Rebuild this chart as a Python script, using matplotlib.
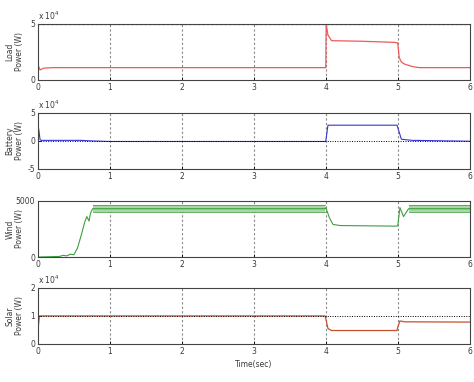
import numpy as np
import matplotlib
matplotlib.use("Agg")
import matplotlib.pyplot as plt

# ---- data (time in s, power in W) ----
load_t = [0, 0.01, 0.03, 0.08, 0.2, 4.0, 4.005, 4.03, 4.08, 4.5, 4.95, 5.0, 5.02, 5.05, 5.1, 5.2, 5.3, 6.0]
load_p = [2000, 12000, 9000, 10500, 11000, 11000, 50000, 40000, 35000, 34500, 33500, 33000, 20000, 16000, 14000, 12000, 11000, 11000]
load_ref = 50000

batt_t = [0, 0.01, 0.03, 0.05, 0.6, 0.75, 1.0, 3.99, 4.0, 4.03, 4.99, 5.05, 5.2, 6.0]
batt_p = [0, 22000, 2000, 1000, 1000, 0, -1000, -1000, 0, 28000, 28000, 3000, 1000, -500]
batt_ref = 0

wind_t = [0, 0.3, 0.35, 0.4, 0.45, 0.5, 0.55, 0.6, 0.65, 0.68, 0.71, 0.73, 0.76,
          3.99, 4.0, 4.05, 4.1, 4.2, 4.99, 5.0, 5.03, 5.08, 5.15, 6.0]
wind_p = [0, 50, 150, 100, 250, 200, 800, 1900, 3100, 3600, 3200, 3900, 4300,
          4300, 4400, 3500, 2900, 2800, 2750, 2800, 4400, 3600, 4300, 4300]
# ripple band of the wind power (low / high envelope)
ripple_t = [0.76, 3.99, 5.15, 6.0]
ripple_lo = [4000, 4000, 4000, 4000]
ripple_hi = [4600, 4600, 4600, 4600]

solar_t = [0, 0.005, 0.02, 3.99, 4.0, 4.03, 4.08, 4.99, 5.0, 5.03, 5.1, 6.0]
solar_p = [0, 6000, 10000, 10000, 9000, 5500, 4800, 4800, 6000, 8200, 7900, 7800]
solar_ref = 10000

fig = plt.figure(figsize=(4.74, 3.82), dpi=100)
fig.patch.set_facecolor("white")

left, width, h = 0.080, 0.911, 0.147
bottoms = [0.7906, 0.5576, 0.3272, 0.0995]
axes = [fig.add_axes([left, b, width, h]) for b in bottoms]

tick_fs = 5.5
txt_col = "#3a3a3a"

def style(ax, ylabel, yticks, ylabels, ylim, exp=True):
    ax.set_xlim(0, 6)
    ax.set_ylim(*ylim)
    ax.set_xticks(range(7))
    ax.set_xticklabels([str(i) for i in range(7)], fontsize=tick_fs, color=txt_col)
    ax.set_yticks(yticks)
    ax.set_yticklabels(ylabels, fontsize=tick_fs, color=txt_col)
    ax.tick_params(direction="in", length=2, width=0.6, pad=2)
    for s in ax.spines.values():
        s.set_color("#444444")
        s.set_linewidth(0.8)
    for x in range(1, 6):
        ax.axvline(x, color="#888888", ls=(0, (2, 2)), lw=0.8, zorder=0)
    ax.set_ylabel(ylabel, fontsize=5.5, color=txt_col, linespacing=1.0)
    ax.yaxis.set_label_coords(-0.033, 0.5)
    if exp:
        ax.text(0.0, 1.04, "x 10$^{4}$", transform=ax.transAxes, fontsize=5.5,
                color=txt_col, ha="left", va="bottom")

# load
ax = axes[0]
ax.plot(load_t, np.array(load_p) / 1e4, color="#ee5a5a", lw=0.9)
ax.axhline(load_ref / 1e4, color="black", ls=(0, (1, 1)), lw=1.6)
style(ax, "Load\nPower (W)", [0, 5], ["0", "5"], (0, 5))

# battery
ax = axes[1]
ax.plot(batt_t, np.array(batt_p) / 1e4, color="#3535d5", lw=0.8)
ax.axhline(batt_ref, color="black", ls=(0, (1, 1.5)), lw=0.7)
style(ax, "Battery\nPower (W)", [-5, 0, 5], ["-5", "0", "5"], (-5, 5))

# wind
ax = axes[2]
for i in (0, 2):
    ax.fill_between(ripple_t[i:i + 2], ripple_lo[i:i + 2], ripple_hi[i:i + 2],
                    color="#a8d8a8", lw=0)
    ax.plot(ripple_t[i:i + 2], ripple_lo[i:i + 2], color="#4aa84a", lw=0.6)
    ax.plot(ripple_t[i:i + 2], ripple_hi[i:i + 2], color="#4aa84a", lw=0.6)
ax.plot(wind_t, wind_p, color="#3e9e3e", lw=0.8)
style(ax, "Wind\nPower (W)", [0, 5000], ["0", "5000"], (0, 5000), exp=False)

# solar
ax = axes[3]
ax.plot(solar_t, np.array(solar_p) / 1e4, color="#c8502d", lw=0.9)
ax.axhline(solar_ref / 1e4, color="black", ls=(0, (1, 1.5)), lw=0.7)
style(ax, "Solar\nPower (W)", [0, 1, 2], ["0", "1", "2"], (0, 2))
ax.set_xlabel("Time(sec)", fontsize=5.5, color=txt_col, labelpad=3)

fig.savefig("out.png", dpi=100)
